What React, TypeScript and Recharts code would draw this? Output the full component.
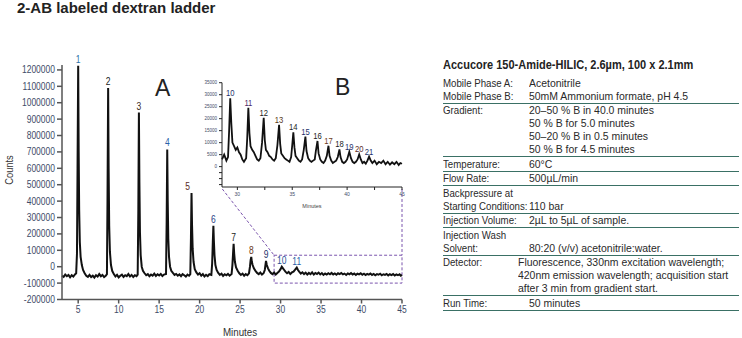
import React from "react";
import { LineChart, Line, XAxis, YAxis, ReferenceArea, ReferenceLine, LabelList, Label } from "recharts";

const FONT = "'Liberation Sans', Arial, sans-serif";

// main chromatogram [minutes, counts]
const mainTrace: [number, number][] = [
  [3.0, -55000], [3.2, -62000], [3.4, -48000], [3.6, -58000], [3.8, -50000], [4.0, -65000], [4.2, -52000],
  [4.4, -60000], [4.6, -47000], [4.75, -40000], [4.85, 80000], [4.92, 600000], [5.0, 1225000], [5.06, 700000],
  [5.12, 350000], [5.2, 150000], [5.3, 60000], [5.45, 10000], [5.6, -20000], [5.8, -40000], [6.0, -55000],
  [6.2, -62000], [6.4, -50000], [6.6, -63000], [6.8, -55000], [7.0, -66000], [7.2, -52000], [7.4, -60000],
  [7.6, -45000], [7.8, -58000], [8.0, -50000], [8.2, -63000], [8.4, -55000], [8.55, -45000], [8.62, 400000],
  [8.7, 1090000], [8.76, 600000], [8.83, 250000], [8.92, 90000], [9.05, 10000], [9.2, -25000], [9.4, -45000],
  [9.6, -60000], [9.8, -50000], [10.0, -65000], [10.2, -55000], [10.4, -48000], [10.6, -62000], [10.8, -52000],
  [11.0, -58000], [11.2, -45000], [11.4, -60000], [11.6, -50000], [11.8, -63000], [12.0, -52000], [12.2, -58000],
  [12.35, -48000], [12.43, 350000], [12.5, 940000], [12.56, 520000], [12.63, 210000], [12.72, 70000], [12.85, 0],
  [13.0, -25000], [13.2, -40000], [13.4, -52000], [13.6, -45000], [13.8, -58000], [14.0, -48000], [14.2, -55000],
  [14.4, -42000], [14.6, -56000], [14.8, -46000], [15.0, -53000], [15.2, -44000], [15.4, -57000], [15.6, -48000],
  [15.85, -45000], [15.93, 280000], [16.0, 715000], [16.06, 400000], [16.13, 170000], [16.22, 60000], [16.35, 0],
  [16.5, -25000], [16.7, -38000], [16.9, -50000], [17.1, -44000], [17.3, -55000], [17.5, -47000], [17.7, -58000],
  [17.9, -45000], [18.1, -52000], [18.3, -60000], [18.5, -48000], [18.7, -55000], [18.85, -45000], [18.93, 180000],
  [19.0, 450000], [19.06, 260000], [19.14, 110000], [19.25, 30000], [19.4, -15000], [19.6, -35000], [19.8, -48000],
  [20.0, -40000], [20.2, -55000], [20.4, -45000], [20.6, -60000], [20.8, -50000], [21.0, -57000], [21.2, -46000],
  [21.45, -50000], [21.55, 20000], [21.63, 150000], [21.7, 250000], [21.76, 160000], [21.84, 70000], [21.95, 10000],
  [22.1, -20000], [22.3, -38000], [22.5, -50000], [22.7, -42000], [22.9, -56000], [23.1, -46000], [23.3, -52000],
  [23.5, -44000], [23.7, -55000], [23.95, -45000], [24.05, 10000], [24.13, 80000], [24.2, 140000], [24.27, 80000],
  [24.36, 30000], [24.5, -5000], [24.7, -25000], [24.9, -40000], [25.1, -50000], [25.3, -42000], [25.5, -55000],
  [25.7, -45000], [25.9, -52000], [26.1, -40000], [26.22, 0], [26.3, 40000], [26.38, 60000], [26.45, 30000],
  [26.55, 10000], [26.7, -10000], [26.9, -25000], [27.1, -38000], [27.3, -45000], [27.5, -35000], [27.7, -48000],
  [27.9, -40000], [28.05, -20000], [28.2, 35000], [28.3, 10000], [28.45, -10000], [28.6, -25000], [28.8, -38000],
  [29.0, -45000], [29.2, -35000], [29.4, -48000], [29.6, -38000], [29.8, -30000], [30.0, -15000], [30.15, 0],
  [30.3, -10000], [30.45, -20000], [30.6, -30000], [30.8, -40000], [31.0, -32000], [31.2, -45000], [31.4, -35000],
  [31.6, -30000], [31.8, -18000], [32.0, -5000], [32.15, -20000], [32.3, -30000], [32.5, -42000], [32.7, -34000],
  [32.9, -45000], [33.1, -36000], [33.3, -48000], [33.5, -38000], [33.7, -46000], [33.9, -35000], [34.1, -48000],
  [34.3, -38000], [34.5, -45000], [34.7, -36000], [34.9, -47000], [35.1, -39000], [35.3, -50000], [35.5, -42000],
  [35.7, -48000], [35.9, -40000], [36.1, -46000], [36.3, -38000], [36.5, -47000], [36.7, -41000], [36.9, -49000],
  [37.1, -40000], [37.3, -45000], [37.5, -38000], [37.7, -47000], [37.9, -42000], [38.1, -50000], [38.3, -41000],
  [38.5, -46000], [38.7, -39000], [38.9, -48000], [39.1, -42000], [39.3, -50000], [39.5, -43000], [39.7, -47000],
  [39.9, -40000], [40.1, -49000], [40.3, -43000], [40.5, -51000], [40.7, -44000], [40.9, -48000], [41.1, -41000],
  [41.3, -50000], [41.5, -44000], [41.7, -52000], [41.9, -45000], [42.1, -49000], [42.3, -43000], [42.5, -52000],
  [42.7, -46000], [42.9, -50000], [43.1, -44000], [43.3, -53000], [43.5, -46000], [43.7, -51000], [43.9, -45000],
  [44.1, -54000], [44.3, -47000], [44.5, -52000], [44.7, -46000], [44.85, -55000], [45.0, -50000],
];

const mainPeaks: [number, number, string][] = [
  [5.0, 1225000, "1"], [8.7, 1090000, "2"], [12.5, 940000, "3"], [16.0, 715000, "4"], [19.0, 450000, "5"],
  [21.7, 250000, "6"], [24.2, 140000, "7"], [26.38, 60000, "8"], [28.2, 35000, "9"], [30.15, 0, "10"], [32.0, -5000, "11"],
];

// zoomed region B
const insetTrace: [number, number][] = [
  [28.6, 3000], [28.8, 5000], [29.0, 2500], [29.15, 4000], [29.25, 15000], [29.35, 28500], [29.45, 18000],
  [29.55, 10000], [29.7, 8500], [29.85, 7000], [30.0, 8000], [30.15, 6000], [30.3, 5000], [30.45, 3000],
  [30.6, 2000], [30.8, 3500], [30.9, 12000], [31.0, 24500], [31.1, 14000], [31.2, 8500], [31.35, 7000],
  [31.5, 6000], [31.65, 4500], [31.8, 3000], [31.95, 2500], [32.1, 3500], [32.25, 10000], [32.4, 20400],
  [32.5, 11000], [32.6, 7000], [32.75, 6000], [32.9, 4500], [33.05, 4000], [33.2, 3000], [33.35, 2500],
  [33.5, 3500], [33.65, 9000], [33.8, 17400], [33.9, 9500], [34.0, 5500], [34.15, 4500], [34.3, 3500],
  [34.45, 3000], [34.6, 2500], [34.75, 2000], [34.9, 4000], [35.0, 9000], [35.1, 14300], [35.2, 8000],
  [35.3, 4500], [35.45, 3500], [35.6, 2500], [35.75, 2000], [35.9, 3000], [36.05, 7000], [36.2, 12500],
  [36.3, 6500], [36.45, 3500], [36.6, 2500], [36.75, 2000], [36.9, 2500], [37.05, 3000], [37.15, 6500],
  [37.3, 10700], [37.4, 5500], [37.55, 3000], [37.7, 2000], [37.85, 1500], [38.0, 2500], [38.15, 4500],
  [38.3, 8700], [38.4, 4500], [38.55, 2500], [38.7, 1500], [38.85, 2000], [39.0, 2500], [39.15, 4000],
  [39.3, 7200], [39.4, 4000], [39.55, 2000], [39.7, 1500], [39.85, 2000], [40.0, 3000], [40.2, 6200],
  [40.35, 3500], [40.5, 2000], [40.65, 1500], [40.8, 2000], [40.95, 3000], [41.1, 5100], [41.25, 3000],
  [41.4, 1500], [41.55, 2000], [41.7, 1200], [41.85, 2500], [42.0, 4200], [42.15, 2500], [42.3, 1500],
  [42.5, 2500], [42.7, 1000], [42.9, 2000], [43.1, 1500], [43.3, 2500], [43.5, 1000], [43.7, 2000],
  [43.9, 800], [44.1, 1800], [44.3, 1000], [44.5, 2000], [44.7, 700], [44.85, 1500], [45.0, 1200],
];

const insetPeaks: [number, number, string][] = [
  [29.35, 28500, "10"], [31.0, 24500, "11"], [32.4, 20400, "12"], [33.8, 17400, "13"], [35.1, 14300, "14"],
  [36.2, 12500, "15"], [37.3, 10700, "16"], [38.3, 8700, "17"], [39.3, 7200, "18"], [40.2, 6200, "19"],
  [41.1, 5100, "20"], [42.0, 4200, "21"],
];

const mainYTicks = [-200000, -100000, 0, 100000, 200000, 300000, 400000, 500000, 600000, 700000, 800000, 900000, 1000000, 1100000, 1200000];
const mainXTicks = [5, 10, 15, 20, 25, 30, 35, 40, 45];
const insetYTicks = [-7500, -5000, -2500, 0, 5000, 10000, 15000, 20000, 25000, 30000, 35000];
const insetXTicks = [30, 32.5, 35, 37.5, 40, 42.5, 45];

// zoom box and connector to the inset (minutes / counts of the main chart)
const zoomBox = { x1: 29.2, x2: 45, y1: -100000, y2: 70000 };
const insetCorner = { x: 22.8, y: 474000 };

const methodRows: { label: string[]; value: string[] }[] = [
  { label: ["Mobile Phase A:", "Mobile Phase B:"], value: ["Acetonitrile", "50mM Ammonium formate, pH 4.5"] },
  { label: ["Gradient:"], value: ["20\u201350 % B in 40.0 minutes", "50 % B for 5.0 minutes", "50\u201320 % B in 0.5 minutes", "50 % B for 4.5 minutes"] },
  { label: ["Temperature:"], value: ["60\u00b0C"] },
  { label: ["Flow Rate:"], value: ["500\u00b5L/min"] },
  { label: ["Backpressure at", "Starting Conditions:"], value: ["", "110 bar"] },
  { label: ["Injection Volume:"], value: ["2\u00b5L to 5\u00b5L of sample."] },
  { label: ["Injection Wash", "Solvent:"], value: ["", "80:20 (v/v) acetonitrile:water."] },
  { label: ["Detector:"], value: ["Fluorescence, 330nm excitation wavelength;", "420nm emission wavelength; acquisition start", "after 3 min from gradient start."] },
  { label: ["Run Time:"], value: ["50 minutes"] },
];

const mainData = mainTrace.map(([t, c]) => ({ t, c }));
const mainPeakData = mainPeaks.map(([t, c, n]) => ({ t, c, n }));
const insetData = insetTrace.map(([t, c]) => ({ t, c }));
const insetPeakData = insetPeaks.map(([t, c, n]) => ({ t, c, n }));

const mainLabelColors = ["#2a72a8", "#222", "#3a2a22", "#2a5fa8", "#5a2a1e", "#2a3f86", "#222", "#6a3a1a", "#23306a", "#2a4f96", "#2a5fa8"];
const insetLabelColors = ["#23306a", "#4a2a6a", "#222", "#5a3a1a", "#222", "#23306a", "#222", "#6a3a1a", "#222", "#23306a", "#5a2a1e", "#23306a"];
const PURPLE = "#7b55ad";
const TICK = "#3e4b68";
const SQUEEZE = 0.85;

// condensed svg text (the original uses a narrow typeface)
function Narrow({ x, y, text, anchor, size, fill, dy = "0.35em" }: any) {
  return (
    <g transform={`translate(${x},${y})`}>
      <text transform={`scale(${SQUEEZE},1)`} textAnchor={anchor} dy={dy} fontSize={size} fontFamily={FONT} fill={fill}>{text}</text>
    </g>
  );
}

function PeakLabel(colors: string[], size: number, lift: number) {
  return (p: any) => {
    const dx = p.value === "5" ? -4 : 0;
    return <Narrow x={p.x + dx} y={p.y - lift} text={p.value} anchor="middle" size={size} fill={colors[p.index] || "#222"} dy="0" />;
  };
}

function MainChart() {
  return (
    <LineChart width={420} height={338} margin={{ top: 65, right: 18, bottom: 8.5, left: 5 }} data={mainData}>
      <XAxis dataKey="t" type="number" domain={[3, 45]} ticks={mainXTicks} tickSize={4} height={30}
        stroke="#555" strokeWidth={1.5}
        tick={(p: any) => <Narrow x={p.x} y={p.y} text={p.payload.value} anchor="middle" size={10} fill={TICK} dy="0.71em" />}>
        <Label content={(p: any) => (
          <Narrow x={p.viewBox.x + p.viewBox.width / 2 + 8} y={p.viewBox.y + 32} text="Minutes" anchor="middle" size={11.5} fill="#333" />
        )} />
      </XAxis>
      <YAxis dataKey="c" type="number" domain={[-200000, 1230000]} ticks={mainYTicks} tickSize={5} width={57} interval={0}
        stroke="#555" strokeWidth={1.5}
        tick={(p: any) => <Narrow x={p.x} y={p.y} text={p.payload.value} anchor="end" size={10} fill={TICK} />}>
        <Label content={() => (
          <g transform="translate(9,170) rotate(-90)">
            <text transform={`scale(${SQUEEZE},1)`} textAnchor="middle" dy="0.35em" fontSize={11} fontFamily={FONT} fill="#333">Counts</text>
          </g>
        )} />
      </YAxis>
      <ReferenceArea x1={zoomBox.x1} x2={zoomBox.x2} y1={zoomBox.y1} y2={zoomBox.y2} fill="none" stroke={PURPLE} strokeDasharray="3 2" strokeWidth={1} />
      <ReferenceLine segment={[insetCorner, { x: zoomBox.x1, y: zoomBox.y2 }]} stroke={PURPLE} strokeDasharray="3 2" strokeWidth={1} />
      <ReferenceLine segment={[{ x: zoomBox.x2, y: insetCorner.y }, { x: zoomBox.x2, y: zoomBox.y2 }]} stroke={PURPLE} strokeDasharray="3 2" strokeWidth={1} ifOverflow="visible" />
      <Line dataKey="c" stroke="#111" strokeWidth={2} dot={false} isAnimationActive={false} />
      <Line data={mainPeakData} dataKey="c" stroke="none" dot={false} isAnimationActive={false}>
        <LabelList dataKey="n" content={PeakLabel(mainLabelColors, 10, 3)} />
      </Line>
    </LineChart>
  );
}

function InsetChart() {
  return (
    <LineChart width={240} height={140} margin={{ top: 12.7, right: 18, bottom: 8, left: 12 }} data={insetData}>
      <XAxis dataKey="t" type="number" domain={[28.6, 45]} ticks={insetXTicks} tickSize={3} height={15}
        stroke="#222" tickFormatter={(v: number) => (v % 5 === 0 ? String(v) : "")}
        tick={{ fontSize: 5, fontFamily: FONT, fill: TICK }}>
        <Label value="Minutes" position="insideBottom" offset={-6} fontSize={5.5} fontFamily={FONT} fill="#444" />
      </XAxis>
      <YAxis dataKey="c" type="number" domain={[-8500, 35000]} ticks={insetYTicks} tickSize={3} width={30} interval={0}
        stroke="#222" tickFormatter={(v: number) => (v < 0 ? "" : String(v))}
        tick={{ fontSize: 4.5, fontFamily: FONT, fill: TICK }} />
      <Line dataKey="c" stroke="#111" strokeWidth={1.8} dot={false} isAnimationActive={false} />
      <Line data={insetPeakData} dataKey="c" stroke="none" dot={false} isAnimationActive={false}>
        <LabelList dataKey="n" content={PeakLabel(insetLabelColors, 9, 2)} />
      </Line>
    </LineChart>
  );
}

const LABEL_SQUEEZE = 0.88;
const VALUE_SQUEEZE = 0.95;

function MethodTable() {
  return (
    <div style={{ position: "absolute", left: 443, top: 58, fontFamily: FONT, color: "#2a2a2a" }}>
      <div style={{ fontSize: 12.5, fontWeight: 700, lineHeight: "14px", height: 18, color: "#222", whiteSpace: "nowrap", transform: "scaleX(0.88)", transformOrigin: "0 0" }}>
        Accucore 150-Amide-HILIC, 2.6µm, 100 x 2.1mm
      </div>
      <div style={{ width: 296 }}>
        {methodRows.map((r, i) => (
          <div key={i} style={{ display: "flex", fontSize: 11, lineHeight: "13px", paddingTop: 0.5, borderBottom: "1px solid #3a7065" }}>
            <div style={{ width: 86, whiteSpace: "nowrap" }}>
              {r.label.map((l, j) => (
                <div key={j} style={{ transform: `scaleX(${LABEL_SQUEEZE})`, transformOrigin: "0 0" }}>{l}</div>
              ))}
            </div>
            <div style={{ whiteSpace: "nowrap" }}>
              {(r.value.length < r.label.length ? [...r.value, ""] : r.value).map((v, j) => (
                <div key={j} style={{ transform: `scaleX(${VALUE_SQUEEZE})`, transformOrigin: "0 0" }}>{v || "\u00a0"}</div>
              ))}
            </div>
          </div>
        ))}
      </div>
    </div>
  );
}

export default function App() {
  return (
    <div style={{ position: "absolute", left: 0, top: 0, width: 742, height: 338, background: "#fff", overflow: "hidden" }}>
      <div style={{ position: "absolute", left: 17, top: 0, fontFamily: FONT, fontWeight: 700, fontSize: 15, lineHeight: "16px", color: "#222" }}>
        2-AB labeled dextran ladder
      </div>
      <div style={{ position: "absolute", left: 0, top: 0 }}><MainChart /></div>
      <div style={{ position: "absolute", left: 155, top: 76, fontFamily: FONT, fontSize: 23, lineHeight: "24px", color: "#222" }}>A</div>
      <div style={{ position: "absolute", left: 180, top: 70 }}><InsetChart /></div>
      <div style={{ position: "absolute", left: 335, top: 75, fontFamily: FONT, fontSize: 23, lineHeight: "24px", color: "#222" }}>B</div>
      <MethodTable />
    </div>
  );
}
